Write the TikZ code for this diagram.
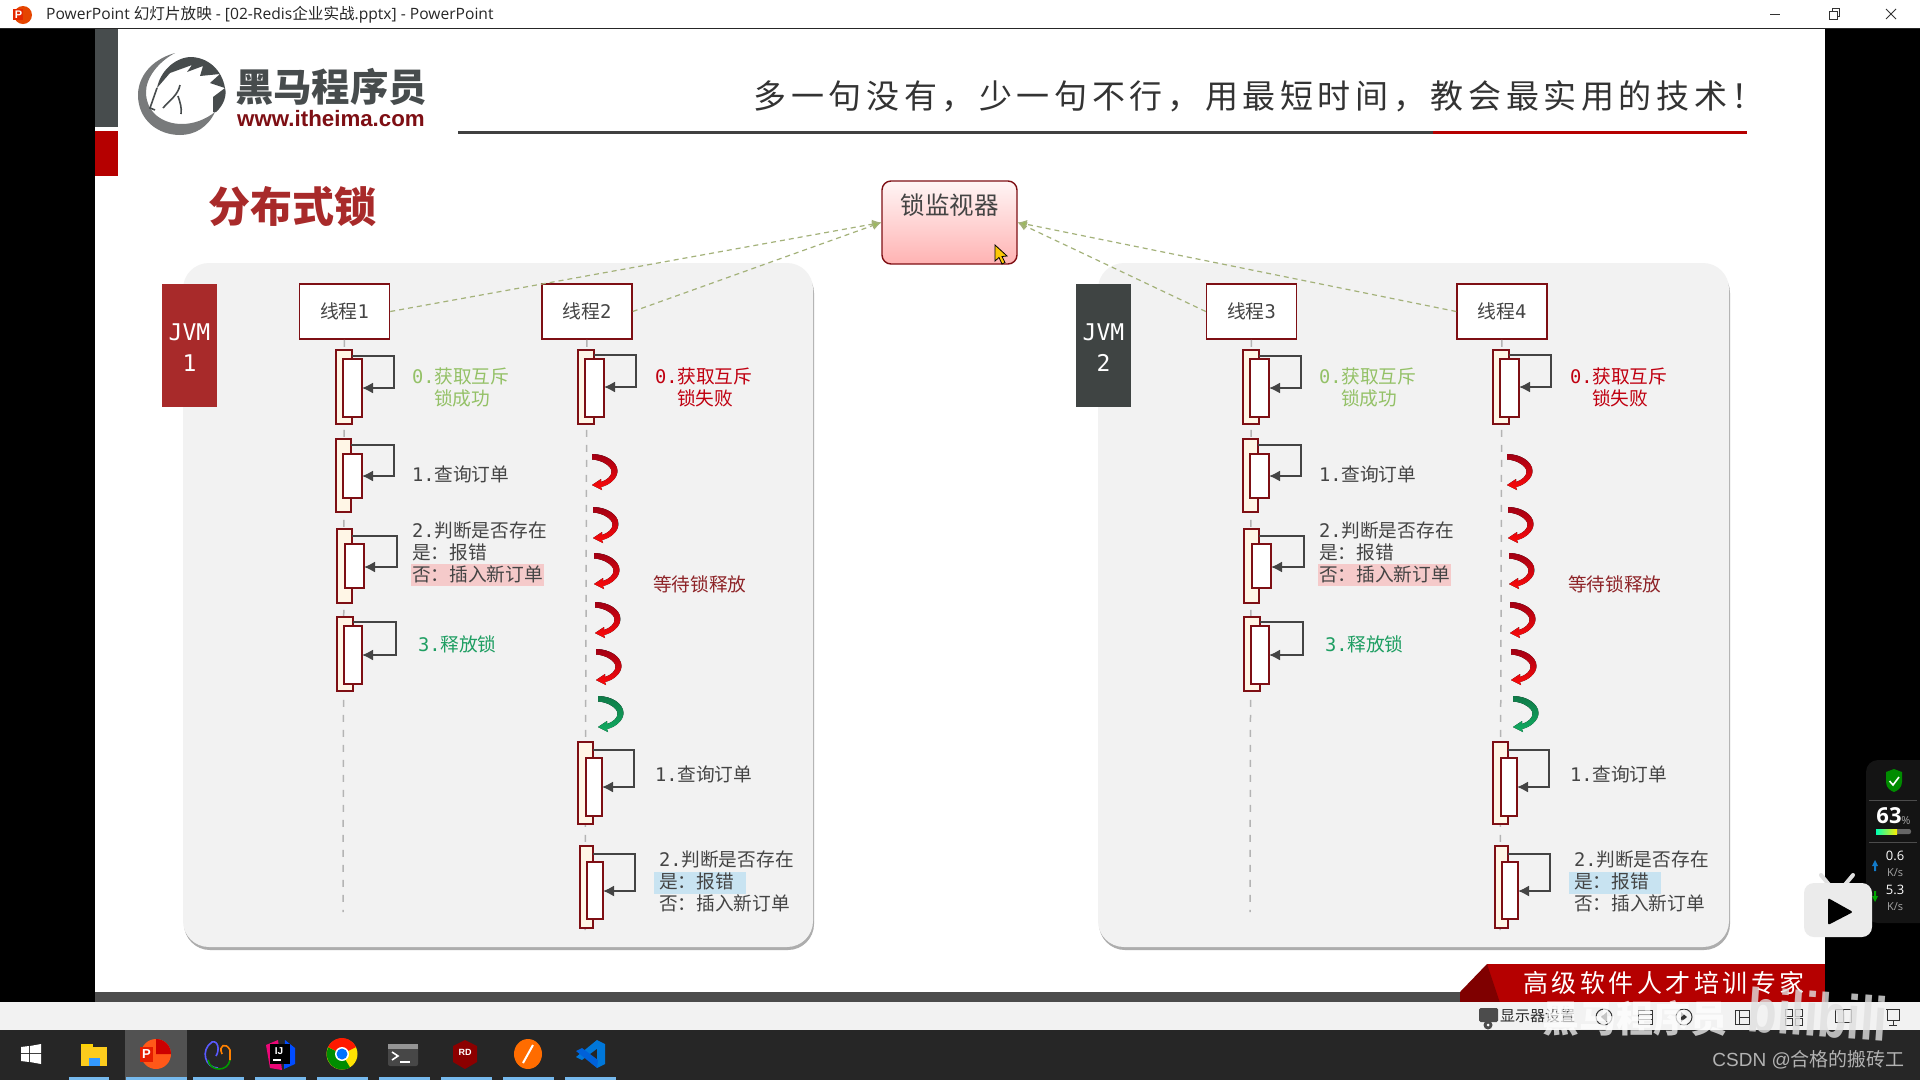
\documentclass[tikz,border=0pt]{standalone}
\usepackage{fontspec}
\usetikzlibrary{arrows.meta}
\setmainfont{Noto Sans CJK SC}
\newfontfamily\fmain{Noto Sans CJK SC}
\newfontfamily\fmono{DejaVu Sans Mono}
\newfontfamily\fopen{Open Sans}
\newfontfamily\farial{Liberation Sans}
\newfontfamily\fslogan[LetterSpace=14]{Noto Sans CJK SC}
\newfontfamily\fbanner[LetterSpace=14]{Noto Sans CJK SC}
\newcommand{\fs}[1]{\fontsize{#1}{#1}\selectfont}
\definecolor{dkred}{HTML}{7E0F14}
\definecolor{panelg}{HTML}{F2F2F2}
\definecolor{jvmred}{HTML}{A82A2A}
\definecolor{jvmgray}{HTML}{3F4443}
\definecolor{barcream}{HTML}{FFF6E6}
\definecolor{lgreen}{HTML}{94C167}
\definecolor{mgreen}{HTML}{1E9E62}
\definecolor{rtext}{HTML}{C00010}
\definecolor{wtext}{HTML}{8E2428}
\definecolor{gtext}{HTML}{444444}
\definecolor{dashg}{HTML}{A4B27A}
\definecolor{tipg}{HTML}{9BBB59}
\definecolor{lifeg}{HTML}{B4B4B4}
\definecolor{hlpink}{HTML}{F5CACA}
\definecolor{hlblue}{HTML}{C8E3F1}
\definecolor{bannerred}{HTML}{B50000}
\definecolor{taskbar}{HTML}{262626}
\definecolor{taskul}{HTML}{76B9ED}
\definecolor{logod}{HTML}{474C4D}
\definecolor{logog}{HTML}{787A7B}
\definecolor{turnredtop}{HTML}{A00014}
\definecolor{turnredbot}{HTML}{FF0A0A}
\definecolor{turngreentop}{HTML}{0F7A48}
\definecolor{turngreenbot}{HTML}{12AC62}
\tikzset{
  lbl/.style={inner sep=0pt,outer sep=0pt,anchor=west,align=left,font=\fontsize{18.7}{22}\selectfont,text=gtext},
  lblc/.style={lbl,align=center},
  threadbox/.style={draw=dkred,line width=1.5pt,fill=white,minimum width=90pt,minimum height=55pt,inner sep=0pt,font=\fontsize{18.8}{22}\selectfont,text=gtext},
  outerbar/.style={draw=dkred,line width=1.7pt,fill=barcream,inner sep=0pt,outer sep=0pt,anchor=north west},
  innerbar/.style={draw=dkred,line width=1.7pt,fill=white,inner sep=0pt,outer sep=0pt,anchor=north west},
  loopline/.style={draw=gtext,line width=1.6pt,-{Latex[length=11pt,width=11pt]}},
  lifeline/.style={draw=lifeg,line width=1.5pt,dash pattern=on 7pt off 8pt},
  callline/.style={draw=dashg,line width=1.2pt,dash pattern=on 5pt off 4pt,-{Latex[length=9pt,width=9pt,fill=tipg]}},
  jvmbox/.style={inner sep=0pt,minimum width=55pt,minimum height=123pt,align=center,text=white,font=\fontsize{23}{31}\selectfont\fmono},
  panel/.style={fill=panelg,rounded corners=26pt},
  panelshadow/.style={fill=black!32,rounded corners=26pt},
  uibar/.style={draw=black!80,line width=1pt},
}
% curved wait arrow
\newcommand{\turn}[4]{%
  \fill[top color=#3,bottom color=#4,shift={(#1,#2)}]
  (0,0) .. controls (14,0) and (25.5,8) .. (25.5,17) .. controls (25.5,24) and (18,31) .. (9,33)
  -- (10,36) -- (0,31) -- (9,25) -- (9,28) .. controls (15,26) and (20,22) .. (19.5,17)
  .. controls (19,12) and (10,6) .. (0,5.5) -- cycle;}
% left-type column
\newcommand{\columnA}[2]{%
  \node[threadbox] (#1) at (344.5,311.5) {线程{\fmono #2}};
  \coordinate (#1end) at (343,912);
  \draw[lifeline] (#1) -- (#1end);
  \node[outerbar,minimum width=16pt,minimum height=74pt] (#1ao) at (336,350) {};
  \node[innerbar,minimum width=19pt,minimum height=58pt] (#1ai) at (343,359) {};
  \draw[loopline] (#1ao.east |- 0,356) -| (394,388) -- (#1ai.east |- 0,388);
  \node[outerbar,minimum width=15pt,minimum height=73pt] (#1bo) at (336,439) {};
  \node[innerbar,minimum width=19pt,minimum height=44pt] (#1bi) at (343,454) {};
  \draw[loopline] (#1bo.east |- 0,445) -| (394,476) -- (#1bi.east |- 0,476);
  \node[outerbar,minimum width=15pt,minimum height=74pt] (#1co) at (337,529) {};
  \node[innerbar,minimum width=19pt,minimum height=44pt] (#1ci) at (345,544) {};
  \draw[loopline] (#1co.east |- 0,536) -| (397,567) -- (#1ci.east |- 0,567);
  \node[outerbar,minimum width=16pt,minimum height=74pt] (#1do) at (337,617) {};
  \node[innerbar,minimum width=18pt,minimum height=58pt] (#1di) at (344,626) {};
  \draw[loopline] (#1do.east |- 0,622) -| (396,655) -- (#1di.east |- 0,655);
  \node[lblc,text=lgreen] (#1la) at (412,387.5) {{\fmono 0.}获取互斥\\\hspace*{3pt}锁成功};
  \node[lbl] (#1lb) at (412,474) {{\fmono 1.}查询订单};
  \fill[hlpink] (411,564) rectangle (544,586);
  \node[lbl] (#1lc) at (412,552) {{\fmono 2.}判断是否存在\\是：报错\\否：插入新订单};
  \node[lbl,text=mgreen] (#1ld) at (418,644) {{\fmono 3.}释放锁};
}
% right-type column
\newcommand{\columnB}[2]{%
  \node[threadbox] (#1) at (587,311.5) {线程{\fmono #2}};
  \coordinate (#1end) at (585,930);
  \draw[lifeline] (#1) -- (#1end);
  \node[outerbar,minimum width=16pt,minimum height=74pt] (#1ao) at (578,350) {};
  \node[innerbar,minimum width=19pt,minimum height=58pt] (#1ai) at (585,359) {};
  \draw[loopline] (#1ao.east |- 0,355) -| (636,387) -- (#1ai.east |- 0,387);
  \turn{592}{454}{turnredtop}{turnredbot}
  \turn{593}{507}{turnredtop}{turnredbot}
  \turn{594}{553}{turnredtop}{turnredbot}
  \turn{595}{602}{turnredtop}{turnredbot}
  \turn{596}{649}{turnredtop}{turnredbot}
  \turn{598}{696}{turngreentop}{turngreenbot}
  \node[outerbar,minimum width=15pt,minimum height=82pt] (#1bo) at (578,742) {};
  \node[innerbar,minimum width=16pt,minimum height=58pt] (#1bi) at (586,758) {};
  \draw[loopline] (#1bo.east |- 0,750) -| (634,787) -- (#1bi.east |- 0,787);
  \node[outerbar,minimum width=13pt,minimum height=82pt] (#1co) at (580,846) {};
  \node[innerbar,minimum width=16pt,minimum height=57pt] (#1ci) at (587,862) {};
  \draw[loopline] (#1co.east |- 0,854) -| (635,891) -- (#1ci.east |- 0,891);
  \node[lblc,text=rtext] (#1la) at (655,387.5) {{\fmono 0.}获取互斥\\\hspace*{3pt}锁失败};
  \node[lbl,text=wtext] (#1lb) at (653,584) {等待锁释放};
  \node[lbl] (#1lc) at (655,774) {{\fmono 1.}查询订单};
  \fill[hlblue] (654,872) rectangle (746,894);
  \node[lbl] (#1ld) at (659,881) {{\fmono 2.}判断是否存在\\是：报错\\否：插入新订单};
}
\begin{document}
\begin{tikzpicture}[x=1pt,y=-1pt]
\useasboundingbox (0,0) rectangle (1920,1080);
% screen
\fill[black] (0,0) rectangle (1920,1003);
\fill[white] (0,0) rectangle (1920,28);
\draw[black!85,line width=1pt] (0,28.5) -- (1920,28.5);
\fill[white] (95,29) rectangle (1825,1003);
% title bar
\fill[orange!60!red!90!black] (23,15) circle (9);
\fill[red!65!orange!90!black] (13,9) rectangle (23,20);
\node[inner sep=0pt,text=white,font=\fs{11}\farial\bfseries] (ppticon) at (18.5,14.5) {P};
\node[inner sep=0pt,anchor=west,text=black!85,font=\fs{15.6}\fopen] (wintitle) at (46,15) {PowerPoint {\fmain 幻灯片放映} - [02-Redis{\fmain 企业实战}.pptx] - PowerPoint};
\draw[black!80,line width=1pt] (1770,14) -- (1780,14);
\draw[black!80,line width=1pt] (1829,11) rectangle (1837,19);
\draw[black!80,line width=1pt] (1832,11) -- (1832,8.5) -- (1839.5,8.5) -- (1839.5,16) -- (1837,16);
\draw[black!80,line width=1pt] (1886,9) -- (1896,19) (1896,9) -- (1886,19);
% slide decoration
\fill[logod] (95,29) rectangle (118,127);
\fill[bannerred] (95,131) rectangle (118,176);
% logo
\fill[logog] (175,53) .. controls (150,60) and (138,78) .. (138,95) .. controls (138,120) and (158,135) .. (180,135) .. controls (195,135) and (208,127) .. (215,112) .. controls (205,120) and (193,124) .. (182,124) .. controls (162,124) and (146,112) .. (146,92) .. controls (146,78) and (158,62) .. (175,53) -- cycle;
\fill[logod] (157,88) .. controls (160,72) and (174,58) .. (190,57) .. controls (208,57) and (222,70) .. (225,88) -- (210,83) -- (220,74) -- (200,76) -- (203,66) -- (187,72) -- (192,65) -- (170,73) -- cycle;
\fill[logod] (225,88) -- (213,97) -- (213,112) -- (216,112) .. controls (224,105) and (227,95) .. (225,88) -- cycle;
\draw[logod,line width=1.6pt] (157,88) -- (150,108) -- (155,110);
\draw[logod,line width=1.6pt] (180,85) .. controls (178,95) and (170,100) .. (163,108);
\draw[logod,line width=1.6pt] (178,96) .. controls (180,102) and (182,108) .. (181,114);
\node[inner sep=0pt,text=logod,font=\fs{38.4}\bfseries] (brand) at (331,87) {黑马程序员};
\node[inner sep=0pt,text=dkred,font=\fs{22.3}\farial\bfseries] (brandurl) at (331,119) {www.itheima.com};
% slogan
\node[inner sep=0pt,anchor=east,text=black!80,font=\fs{33}\fslogan] (slogan) at (1765,96) {多一句没有，少一句不行，用最短时间，教会最实用的技术！};
\fill[black!75] (458,130.5) rectangle (1433,133.5);
\fill[bannerred] (1433,130.5) rectangle (1747,133.5);
% heading
\node[inner sep=0pt,anchor=west,text=jvmred,font=\fs{42}\bfseries] (heading) at (208,207) {分布式锁};
% panels
\fill[panelshadow] (184,267) rectangle (814,950);
\fill[panel] (183,263) rectangle (813,947);
\fill[panelshadow] (1099,267) rectangle (1730,950);
\fill[panel] (1098,263) rectangle (1729,947);
% jvm
\node[jvmbox,fill=jvmred] (jvma) at (189.5,345.5) {\rule{0pt}{20pt}JVM\\1};
\node[jvmbox,fill=jvmgray] (jvmb) at (1103.5,345.5) {\rule{0pt}{20pt}JVM\\2};
% monitor
\node[draw=dkred,line width=1.4pt,rounded corners=9pt,top color=white!85!pink,bottom color=red!30,minimum width=135pt,minimum height=83pt,inner sep=0pt,text=gtext,font=\fs{24.5}] (mon) at (949.5,222.5) {\raisebox{8.5pt}[0pt][0pt]{锁监视器}};
\fill[yellow!60!orange,draw=black,line width=.8pt] (995,245) -- (995,261) -- (999,257.5) -- (1002,264) -- (1005,262.5) -- (1002,256.5) -- (1007,256) -- cycle;
% columns
\columnA{ta}{1}
\columnB{tb}{2}
\begin{scope}[xshift=907pt]
\columnA{tc}{3}
\end{scope}
\begin{scope}[xshift=915pt]
\columnB{td}{4}
\end{scope}
% calls to the monitor
\draw[callline] (ta.east) -- (mon.west);
\draw[callline] (tb.east) -- (mon.west);
\draw[callline] (tc.west) -- (mon.east);
\draw[callline] (td.west) -- (mon.east);
% bottom of slide
\fill[black!70] (95,992) rectangle (1500,1003);
\fill[bannerred!70!black] (1460,992) -- (1487,964) -- (1500,1003) -- (1460,1003) -- cycle;
\fill[bannerred] (1487,964) rectangle (1825,1003);
\fill[bannerred!70!black] (1487,964) -- (1500,1003) -- (1487,1003) -- cycle;
\node[inner sep=0pt,anchor=west,text=white,font=\fs{25}\fbanner] (bannertext) at (1523,983) {高级软件人才培训专家};
% show bar
\fill[panelg] (0,1002) rectangle (1920,1030);
\fill[black!70,rounded corners=1.5pt] (1479,1008) rectangle (1498,1022);
\fill[black!70] (1488,1025) circle (4.5);
\fill[white] (1488,1025) circle (1.5);
\node[inner sep=0pt,anchor=west,text=black!85,font=\fs{15}] (barlabel) at (1500,1016) {显示器设置};
\draw[uibar] (1604,1017) circle (8);
\fill[black!80] (1607,1012) -- (1601,1017) -- (1607,1022) -- cycle;
\draw[uibar] (1638,1010) rectangle (1652,1024) (1638,1014) -- (1652,1014) (1638,1019) -- (1652,1019);
\draw[uibar] (1684,1017) circle (8);
\fill[black!80] (1681,1012) -- (1687,1017) -- (1681,1022) -- cycle;
\draw[uibar] (1735,1010) rectangle (1749,1024) (1739,1010) -- (1739,1024) (1739,1017) -- (1749,1017);
\draw[uibar] (1785,1009) rectangle (1792,1016) (1795,1009) rectangle (1802,1016) (1785,1018) rectangle (1792,1025) (1795,1018) rectangle (1802,1025);
\draw[uibar] (1835,1009) rectangle (1851,1022) (1843,1009) -- (1843,1022);
\draw[uibar] (1886,1009) -- (1900,1009) (1887,1009) rectangle (1899,1020) (1893,1020) -- (1893,1025) (1889,1025) -- (1897,1025);
% taskbar
\fill[taskbar] (0,1030) rectangle (1920,1080);
\fill[black!68] (125,1030) rectangle (187,1080);
\foreach \a/\b in {69/109,126/187,193/244,255/306,317/368,379/430,441/492,503/554,565/616}
  \fill[taskul] (\a,1077) rectangle (\b,1080);
% windows
\fill[white] (21,1047) -- (29,1046) -- (29,1053) -- (21,1053) -- cycle (30,1046) -- (41,1044) -- (41,1053) -- (30,1053) -- cycle (21,1054) -- (29,1054) -- (29,1062) -- (21,1061) -- cycle (30,1054) -- (41,1054) -- (41,1064) -- (30,1062) -- cycle;
% folder
\fill[yellow!70!orange] (81,1044) rectangle (93,1050);
\fill[yellow!60!orange!90!white] (81,1047) rectangle (107,1066);
\fill[blue!50!cyan!80!white] (89,1058) rectangle (100,1066);
% powerpoint
\fill[orange!55!red!90!white] (156,1054) circle (15);
\fill[red!80!black] (156,1054) -- (171,1054) arc[start angle=0,end angle=-90,radius=15] -- cycle;
\fill[red!75!orange!90!black] (140,1047) rectangle (153,1062);
\node[inner sep=0pt,text=white,font=\fs{13}\farial\bfseries] (pptp) at (146.5,1054.5) {P};
% ring app
\draw[blue!65!white,line width=1.6pt] (218,1068) .. controls (205,1068) and (200,1050) .. (212,1042) .. controls (218,1040) and (220,1050) .. (216,1056) ;
\draw[green!60!black,line width=1.6pt] (208,1060) .. controls (210,1072) and (228,1072) .. (230,1060);
\draw[orange,line width=1.6pt] (222,1054) .. controls (218,1045) and (226,1042) .. (230,1050) -- (230,1060);
% intellij
\fill[magenta!80!red] (266,1045) -- (278,1040) -- (282,1070) -- (270,1068) -- cycle;
\fill[blue!70!cyan] (285,1040) -- (295,1048) -- (295,1064) -- (284,1069) -- cycle;
\fill[black] (270,1044) rectangle (290,1064);
\node[inner sep=0pt,text=white,font=\fs{10}\farial\bfseries] (ijtext) at (279,1051) {IJ};
\fill[white] (273,1059) rectangle (281,1060.5);
% chrome
\fill[yellow!85!orange] (342,1054) circle (15.5);
\fill[red!80!orange] (342,1054) -- (328,1047) arc[start angle=205,end angle=335,radius=15.5] -- cycle;
\fill[green!55!black] (342,1054) -- (350,1067.4) arc[start angle=60,end angle=205,radius=15.5] -- cycle;
\fill[white] (342,1054) circle (7);
\fill[blue!55!cyan] (342,1054) circle (5.5);
% terminal
\fill[black!72,rounded corners=2pt] (388,1044) rectangle (418,1066);
\fill[black!42] (388,1044) rectangle (418,1049);
\draw[white,line width=1.6pt] (392,1052) -- (398,1056) -- (392,1060);
\draw[white,line width=1.6pt] (400,1062) -- (410,1062);
% redis manager
\fill[red!55!black] (465,1040) -- (477,1046) -- (477,1062) -- (465,1069) -- (453,1062) -- (453,1046) -- cycle;
\node[inner sep=0pt,text=white,font=\fs{9}\farial\bfseries] (rdtext) at (465,1052) {RD};
% orange app
\fill[orange!85!red] (528,1054) ellipse [x radius=14,y radius=15];
\draw[white,line width=2pt] (523,1063) -- (533,1045);
% vscode
\fill[blue!45!cyan!85!black] (597,1040) -- (605,1044) -- (605,1064) -- (597,1068) -- cycle;
\fill[blue!45!cyan!85!black] (597,1040) -- (598,1048) -- (582,1060) -- (576,1057) -- cycle;
\fill[blue!55!cyan!85!black] (597,1068) -- (598,1060) -- (582,1048) -- (576,1051) -- cycle;
% system widget
\fill[black!92!white,rounded corners=12pt] (1866,760) rectangle (1940,923);
\fill[green!55!black] (1894,769) -- (1902,772) -- (1902,782) .. controls (1902,788) and (1897,791) .. (1894,792) .. controls (1891,791) and (1886,788) .. (1886,782) -- (1886,772) -- cycle;
\draw[white,line width=1.6pt] (1889.5,781) -- (1893,785) -- (1899,777);
\draw[black!70] (1869,800) -- (1917,800) (1869,842) -- (1917,842);
\node[inner sep=0pt,text=white,font=\fs{22}\fopen\bfseries] (cpu) at (1889,816) {63};
\node[inner sep=0pt,text=black!35,font=\fs{11}\fopen] (cpup) at (1906,821) {\%};
\fill[black!60,rounded corners=2pt] (1876,829) rectangle (1911,834);
\fill[left color=cyan!70!green,right color=yellow!85!orange] (1876,829) rectangle (1897,834);
\node[inner sep=0pt,text=white,font=\fs{13}\fopen] (upv) at (1895,856) {0.6};
\node[inner sep=0pt,text=black!35,font=\fs{11}\fopen] (upu) at (1895,873) {K/s};
\node[inner sep=0pt,text=white,font=\fs{13}\fopen] (dnv) at (1895,890) {5.3};
\node[inner sep=0pt,text=black!35,font=\fs{11}\fopen] (dnu) at (1895,907) {K/s};
\fill[cyan!60!blue] (1875,860) -- (1878,866) -- (1876,866) -- (1876,871) -- (1874,871) -- (1874,866) -- (1872,866) -- cycle;
\fill[green!65!black] (1875,902) -- (1878,896) -- (1876,896) -- (1876,891) -- (1874,891) -- (1874,896) -- (1872,896) -- cycle;
% tv logo
\draw[black!12,line width=4pt,line cap=round] (1821,875) -- (1831,887) (1853,875) -- (1843,887);
\fill[black!8,rounded corners=10pt] (1804,883) rectangle (1872,937);
\fill[black,rounded corners=2pt] (1828,898) -- (1853,912) -- (1828,925) -- cycle;
% CSDN
\node[inner sep=0pt,anchor=east,text=black!30,font=\fs{19}] (csdn) at (1905,1060) {{\farial CSDN @}合格的搬砖工};
% watermark
\node[inner sep=0pt,text=white,opacity=.72,font=\fs{37}\bfseries] (wmark) at (1635,1018) {黑马程序员};
\node[inner sep=0pt,text=black!12,opacity=.8,rotate=-4,xscale=.78,font=\fs{62}\farial\bfseries] (bili) at (1818,1014) {bilibili};
\end{tikzpicture}
\end{document}
